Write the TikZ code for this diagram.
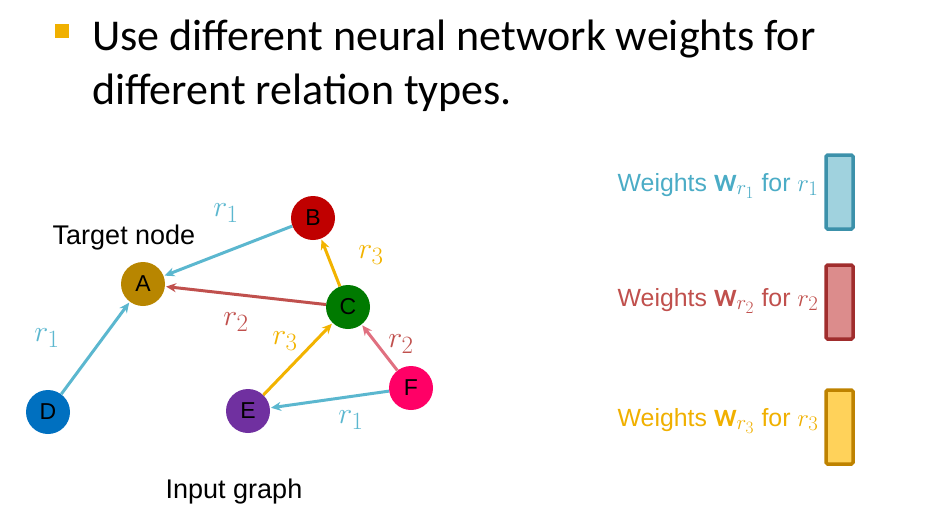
\documentclass[tikz,border=0pt]{standalone}
\usepackage{fontspec}
\setmainfont{Carlito}
\newfontfamily\arialf{Liberation Sans}
\usetikzlibrary{arrows.meta}
\definecolor{eb}{HTML}{5BB7CF}
\definecolor{er}{HTML}{C0504D}
\definecolor{ep}{HTML}{E07080}
\definecolor{ey}{HTML}{F2B300}
\definecolor{tb}{HTML}{4BACC6}
\definecolor{tr}{HTML}{C0504D}
\definecolor{ty}{HTML}{F0B000}
\begin{document}
\begin{tikzpicture}[x=1pt,y=-1pt,
  nd/.style={circle,minimum size=44pt,inner sep=0pt,font=\arialf\fontsize{23}{23}\selectfont},
  ed/.style={line width=3pt,-{Stealth[length=10pt,width=9pt]},shorten >=1pt},
  rl/.style={font=\Huge,scale=1.2},
  wt/.style={anchor=east,font=\arialf\Huge},
  box/.style={line width=3.5pt,rounded corners=1.5pt}]
\useasboundingbox (0,0) rectangle (944,520);
\fill[ty] (55,24) rectangle (69,38);
\node[anchor=base west,inner sep=0,font=\fontsize{44}{44}\selectfont] (t1) at (92,50) {Use different neural network weights for};
\node[anchor=base west,inner sep=0,font=\fontsize{44}{44}\selectfont] (t2) at (92,104) {different relation types.};
\node[nd,fill={rgb,255:red,184;green,134;blue,0}] (A) at (143,284) {A};
\node[nd,fill={rgb,255:red,192;green,0;blue,0}] (B) at (313,218) {B};
\node[nd,fill={rgb,255:red,0;green,122;blue,0}] (C) at (348,307) {C};
\node[nd,fill={rgb,255:red,0;green,112;blue,192}] (D) at (48,412) {D};
\node[nd,fill={rgb,255:red,112;green,48;blue,160}] (E) at (248,411) {E};
\node[nd,fill={rgb,255:red,255;green,0;blue,102}] (F) at (411,388) {F};
\node[font=\arialf\fontsize{27}{27}\selectfont] (tn) at (124,238) {Target node};
\node[font=\arialf\fontsize{27}{27}\selectfont] (ig) at (234,492) {Input graph};
\draw[ed,eb] (B) -- (A);
\draw[ed,eb] (D) -- (A);
\draw[ed,er] (C) -- (A);
\draw[ed,ey] (C) -- (B);
\draw[ed,ey] (E) -- (C);
\draw[ed,ep] (F) -- (C);
\draw[ed,eb] (F) -- (E);
\node[rl,eb] (l1) at (226,213) {$r_1$};
\node[rl,eb] (l2) at (47,338) {$r_1$};
\node[rl,er] (l3) at (236,322) {$r_2$};
\node[rl,ey] (l4) at (371,255) {$r_3$};
\node[rl,ey] (l5) at (285,341) {$r_3$};
\node[rl,er] (l6) at (401,344) {$r_2$};
\node[rl,eb] (l7) at (351,420) {$r_1$};
\draw[box,draw={rgb,255:red,60;green,145;blue,170},fill={rgb,255:red,160;green,210;blue,222}] (826,155) rectangle (853,229);
\draw[box,draw={rgb,255:red,160;green,45;blue,45},fill={rgb,255:red,220;green,140;blue,140}] (826,265) rectangle (853,339);
\draw[box,draw={rgb,255:red,190;green,130;blue,0},fill={rgb,255:red,255;green,210;blue,90}] (826,390) rectangle (853,464);
\node[wt,tb] (w1) at (822,186) {Weights $\mathbf{W}_{r_1}$ for $r_1$};
\node[wt,tr] (w2) at (822,301) {Weights $\mathbf{W}_{r_2}$ for $r_2$};
\node[wt,ty] (w3) at (822,421) {Weights $\mathbf{W}_{r_3}$ for $r_3$};
\end{tikzpicture}
\end{document}
